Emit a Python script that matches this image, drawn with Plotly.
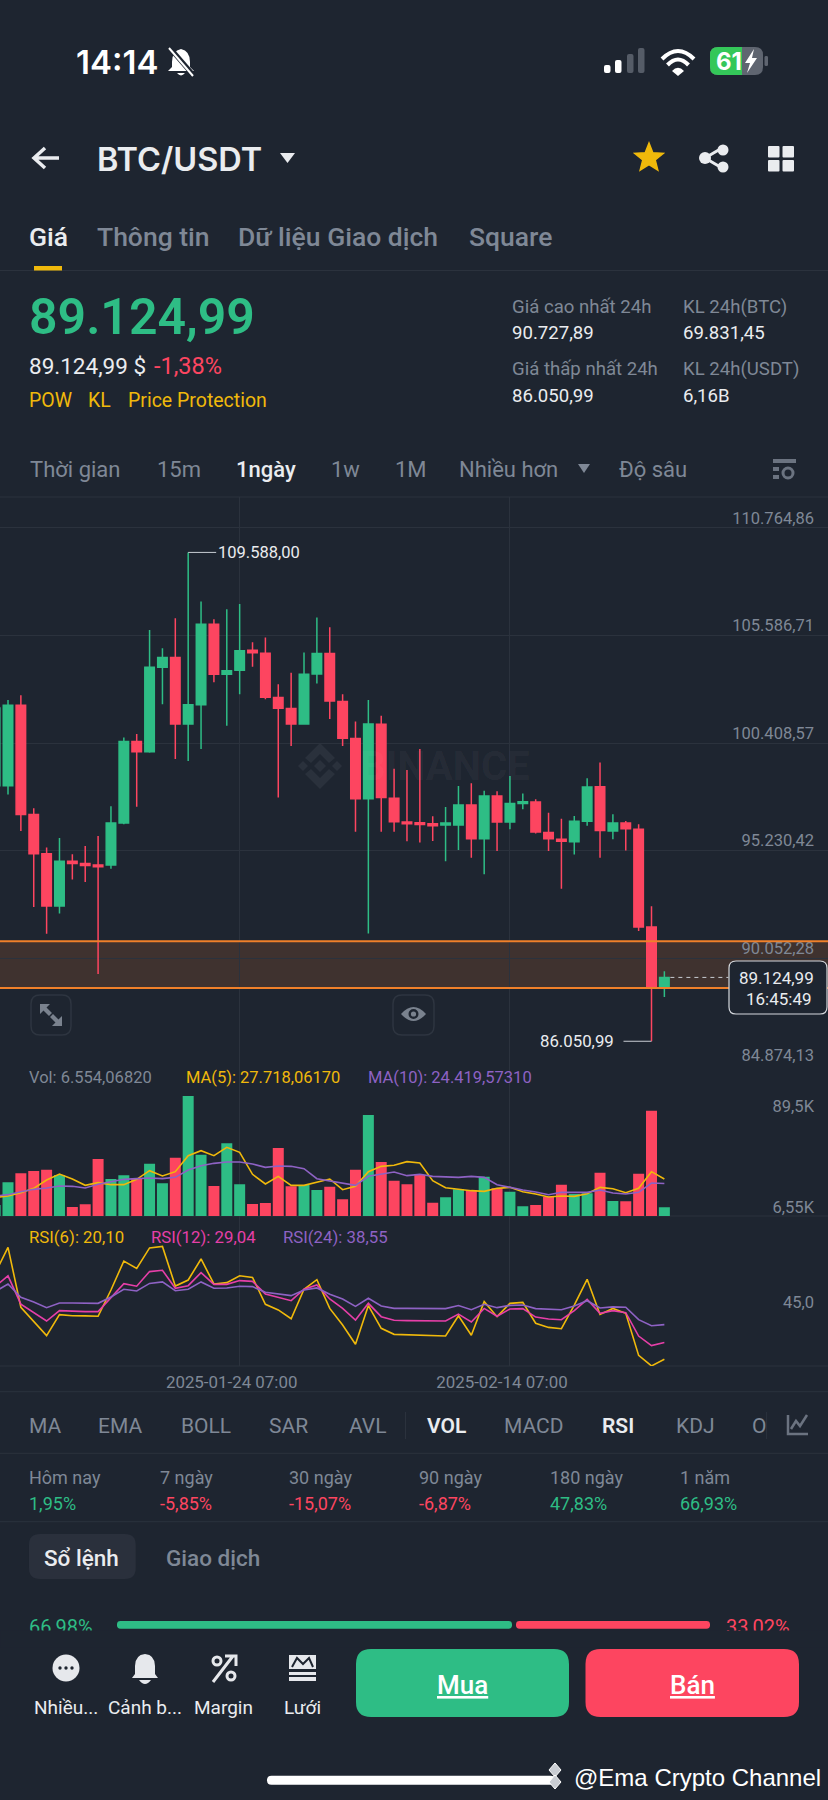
import math
import re
import pandas as pd
import plotly.graph_objects as go
from plotly.subplots import make_subplots

W, H = 828, 1800
BG = "#1E2530"
GREEN = "#2EBD85"
RED = "#FD4560"
YELLOW = "#F0B90B"
PURPLE = "#8E62C4"
PINK = "#E63FA8"
GRAY = "#7F8896"
WHITE = "#EAECEF"
GRID = "#2B323D"

# 1. DATA (daily BTC/USDT candles)
dates = pd.date_range("2025-01-05 07:00", periods=53, freq="D")

opens = [98358, 98358, 102225, 96966, 95076, 92567, 94715, 94612, 94543, 94543, 96554, 100489, 99991, 104064,
         104528, 101331, 102259, 106126, 103720, 103909, 104872, 104734, 102603, 102070, 101331, 103737, 104717,
         102414, 100627, 97722, 101314, 97757, 96605, 96571, 96519, 96468, 96468, 97430, 95797, 97860, 96605,
         97499, 97568, 96107, 95780, 95660, 96640, 98307, 96176, 96554, 96262, 91553, 88700]
highs = [102400, 102483, 102706, 97275, 95385, 95832, 95058, 95454, 95935, 97361, 100678, 100850, 105851, 104975,
         106418, 109588, 107226, 106367, 106848, 107106, 105267, 105490, 103239, 103789, 104769, 106453, 105989,
         102758, 101452, 102483, 101727, 99166, 99114, 100128, 96880, 97327, 98341, 98478, 98118, 98083, 98822,
         97980, 97705, 97052, 96760, 96897, 98719, 99475, 96983, 96657, 96502, 92549, 89421]
lows = [98000, 97929, 96176, 92515, 91226, 92206, 93838, 93718, 89284, 94354, 96502, 97344, 99939, 102277,
        99647, 99544, 100128, 103342, 101245, 102758, 104081, 102517, 97791, 100266, 101331, 103273, 101572,
        100266, 96141, 91243, 96141, 96141, 95677, 95626, 95694, 94715, 95265, 94887, 94096, 95213, 96262,
        97224, 96055, 95213, 93391, 95041, 96433, 94887, 95780, 95230, 91364, 86051, 88184]
closes = [102100, 102225, 96966, 95076, 92567, 94715, 94612, 94509, 94457, 96554, 100489, 99991, 104064, 104528,
          101331, 102259, 106126, 103720, 103892, 104855, 104751, 102620, 102088, 101331, 103720, 104717, 102431,
          100644, 97722, 101331, 97791, 96622, 96519, 96485, 96433, 96554, 97430, 95797, 97860, 96605, 97499,
          97585, 96124, 95797, 95677, 96640, 98289, 96193, 96554, 96279, 91553, 88700, 89124.99]

volumes = [8250, 25250, 32000, 33750, 34750, 30750, 6750, 8750, 42750, 27750, 30500, 28250, 39250, 24500,
           43750, 90000, 46000, 22500, 54500, 23750, 9000, 9750, 51000, 22250, 23250, 19500, 22000,
           12500, 34750, 75750, 40500, 26500, 23750, 30750, 10000, 14000, 20000, 19500, 29500, 20750, 18250,
           7250, 8250, 14500, 23500, 16500, 17000, 32500, 11250, 11000, 31750, 79000, 6554]
vol_ma5 = [14000, 15000, 17500, 20750, 27000, 31500, 27750, 23000, 25000, 23500, 23500, 27500, 34000, 30000,
           33250, 45250, 49000, 45250, 51500, 47750, 31250, 24000, 29750, 23000, 23000, 25500, 27750,
           19750, 22250, 33250, 37250, 38000, 40750, 39750, 26500, 21250, 20000, 19000, 18500, 20750, 21500,
           18250, 16500, 14250, 15000, 14750, 16750, 21500, 20500, 17500, 20750, 33250, 27718]
vol_ma10 = [15000, 16000, 18250, 20000, 21000, 22500, 22250, 21000, 23750, 25750, 27500, 28000, 28500, 28000,
            29000, 34500, 37750, 39500, 40500, 40500, 39000, 36500, 37500, 37250, 35500, 28000, 26250,
            25000, 23000, 29750, 31500, 33000, 30250, 31250, 29750, 29250, 29000, 29750, 29000, 23500, 21250,
            19500, 18000, 16000, 17750, 18000, 17750, 19500, 17250, 16500, 17750, 24750, 24420]

rsi6 = [65.9, 79.7, 47.8, 40.1, 32.7, 43.9, 43.3, 43.2, 43.0, 57.0, 72.4, 68.5, 79.4, 80.2,
        59.1, 62.3, 73.5, 60.2, 60.9, 64.6, 63.7, 49.4, 46.4, 41.7, 57.4, 62.5, 47.2,
        38.4, 28.1, 48.7, 36.6, 33.4, 33.1, 32.9, 32.7, 32.5, 43.3, 32.9, 50.8, 42.8, 49.9,
        50.4, 39.3, 37.1, 36.4, 49.0, 62.7, 44.0, 47.2, 44.6, 22.2, 16.6, 20.10]
rsi12 = [58.8, 64.5, 49.5, 45.1, 40.5, 46.0, 45.6, 45.5, 45.5, 53.1, 60.4, 59.0, 66.8, 67.5,
         57.9, 59.3, 66.2, 60.0, 60.0, 62.0, 61.6, 54.9, 53.3, 51.3, 57.4, 59.7, 52.2,
         47.2, 41.0, 49.9, 42.8, 40.9, 40.7, 40.7, 40.7, 40.5, 44.2, 40.0, 47.2, 43.0, 46.9,
         47.1, 42.6, 41.6, 41.2, 46.0, 52.0, 44.6, 46.0, 44.9, 32.5, 27.4, 29.04]
rsi24 = [56.1, 60.2, 53.1, 50.6, 47.6, 50.1, 50.1, 49.9, 49.9, 53.3, 57.4, 56.5, 60.5, 61.3,
         56.6, 57.4, 61.3, 57.9, 58.1, 59.0, 58.8, 55.8, 55.0, 54.0, 57.0, 58.1, 54.7,
         52.2, 48.3, 52.6, 48.5, 47.2, 47.2, 47.2, 47.1, 47.1, 48.7, 46.5, 49.4, 47.6, 48.8,
         49.0, 47.1, 46.7, 46.5, 48.5, 51.3, 47.4, 48.0, 47.8, 41.2, 38.0, 38.55]

price_ticks = [110764.86, 105586.71, 100408.57, 95230.42, 90052.28, 84874.13]
price_labels = ["110.764,86", "105.586,71", "100.408,57", "95.230,42", "90.052,28", "84.874,13"]
vol_ticks = [6554, 82000]  # the app pushes the 89,5K label down inside the panel
vol_labels = ["6,55K", "89,5K"]
rsi_ticks = [45.0]
rsi_labels = ["45,0"]
date_ticks = ["2025-01-24 07:00", "2025-02-14 07:00"]
date_labels = ["2025-01-24 07:00", "2025-02-14 07:00"]

high_label = ("2025-01-20 07:00", 109588.0, "109.588,00")
low_label = ("2025-02-25 07:00", 86050.99, "86.050,99")
last_price = 89124.99
zone_top, zone_bottom = 90867, 88615


# 2. HELPERS, everything outside the chart is placed in screenshot pixels
def X(x):
    return x / W


def Y(y):
    return 1 - y / H


shapes = []
notes = []


def path(d, fill=None, line=None, width=0, layer="above"):
    # absolute M/L/Q/C path written in pixels, converted to paper units
    nums = iter(range(10 ** 6))

    def conv(m):
        v = float(m.group(0))
        return f"{X(v):.5f}" if next(nums) % 2 == 0 else f"{Y(v):.5f}"

    shapes.append(dict(type="path", xref="paper", yref="paper", layer=layer,
                       path=re.sub(r"-?\d+\.?\d*", conv, d),
                       fillcolor=fill or "rgba(0,0,0,0)",
                       line=dict(color=line or "rgba(0,0,0,0)", width=width)))


def rrect(x0, y0, x1, y1, r, fill=None, line=None, width=0, layer="above"):
    path(f"M {x0 + r} {y0} L {x1 - r} {y0} Q {x1} {y0} {x1} {y0 + r} L {x1} {y1 - r} Q {x1} {y1} {x1 - r} {y1} "
         f"L {x0 + r} {y1} Q {x0} {y1} {x0} {y1 - r} L {x0} {y0 + r} Q {x0} {y0} {x0 + r} {y0} Z",
         fill, line, width, layer)


def circle(cx, cy, r, fill=None, line=None, width=0):
    shapes.append(dict(type="circle", xref="paper", yref="paper", layer="above",
                       x0=X(cx - r), x1=X(cx + r), y0=Y(cy + r), y1=Y(cy - r),
                       fillcolor=fill or "rgba(0,0,0,0)",
                       line=dict(color=line or "rgba(0,0,0,0)", width=width)))


def hline(y, x0=0, x1=W, color=GRID, width=1):
    shapes.append(dict(type="line", xref="paper", yref="paper", layer="below",
                       x0=X(x0), x1=X(x1), y0=Y(y), y1=Y(y), line=dict(color=color, width=width)))


def txt(x, y, s, size=18, color=WHITE, anchor="left", weight=400, family="Roboto"):
    notes.append(dict(xref="paper", yref="paper", x=X(x), y=Y(y), text=s, showarrow=False,
                      xanchor=anchor, yanchor="middle", borderpad=0, borderwidth=0,
                      font=dict(size=size, color=color, family=family, weight=weight)))


# 3. FIGURE
fig = make_subplots(rows=3, cols=1, shared_xaxes=True, vertical_spacing=0)

fig.add_trace(go.Candlestick(x=dates, open=opens, high=highs, low=lows, close=closes, whiskerwidth=0,
                             increasing=dict(line=dict(color=GREEN, width=1.5), fillcolor=GREEN),
                             decreasing=dict(line=dict(color=RED, width=1.5), fillcolor=RED),
                             hoverinfo="skip"), row=1, col=1)

bar_colors = [GREEN if c >= o else RED for o, c in zip(opens, closes)]
fig.add_trace(go.Bar(x=dates, y=volumes, marker=dict(color=bar_colors, line=dict(width=0))), row=2, col=1)
fig.add_trace(go.Scatter(x=dates, y=vol_ma5, mode="lines", line=dict(color=YELLOW, width=1.6)), row=2, col=1)
fig.add_trace(go.Scatter(x=dates, y=vol_ma10, mode="lines", line=dict(color=PURPLE, width=1.6)), row=2, col=1)

fig.add_trace(go.Scatter(x=dates, y=rsi6, mode="lines", line=dict(color=YELLOW, width=1.6)), row=3, col=1)
fig.add_trace(go.Scatter(x=dates, y=rsi12, mode="lines", line=dict(color=PINK, width=1.6)), row=3, col=1)
fig.add_trace(go.Scatter(x=dates, y=rsi24, mode="lines", line=dict(color=PURPLE, width=1.6)), row=3, col=1)

# pixel to date: candle n sits at 8 + 12.87 n, left edge of the screen is x = 0
day0 = pd.Timestamp("2025-01-06 07:00")
x_range = [day0 + pd.Timedelta(days=-8 / 12.87), day0 + pd.Timedelta(days=(W - 8) / 12.87)]

for ax in ["xaxis", "xaxis2", "xaxis3"]:
    fig.layout[ax].update(range=x_range, tickvals=date_ticks, ticktext=date_labels, showgrid=True,
                          gridcolor=GRID, gridwidth=1, zeroline=False, showline=False, ticks="",
                          showticklabels=False, automargin=False, rangeslider=dict(visible=False))
fig.layout.xaxis3.update(showticklabels=True, ticklabelshift=-8, ticklabelstandoff=4,
                         tickfont=dict(size=16.9, color=GRAY, family="Roboto"))

axis_style = dict(side="right", ticks="", zeroline=False, showline=False, ticklabelposition="inside",
                  ticklabelstandoff=11, ticklabeloverflow="allow", automargin=False,
                  tickfont=dict(size=16.5, color=GRAY, family="Roboto"))
fig.layout.yaxis.update(domain=[Y(1065.7), Y(497)], range=[84874.13, 112256], tickvals=price_ticks,
                        ticktext=price_labels, showgrid=True, gridcolor=GRID, ticklabelshift=-10, **axis_style)
fig.layout.yaxis2.update(domain=[Y(1216), Y(1065.7)], range=[0, 112725], tickvals=vol_ticks,
                         ticktext=vol_labels, showgrid=False, **axis_style)
fig.layout.yaxis3.update(domain=[Y(1366), Y(1216)], range=[16.55, 96.38], tickvals=rsi_ticks,
                         ticktext=rsi_labels, showgrid=False, ticklabelshift=-10, **axis_style)

# orange support zone
shapes.append(dict(type="rect", xref="paper", yref="y", x0=0, x1=1, y0=zone_bottom, y1=zone_top, layer="below",
                   fillcolor="rgba(255,130,50,0.15)", line=dict(width=0)))
for v in [zone_top, zone_bottom]:
    shapes.append(dict(type="line", xref="paper", yref="y", x0=0, x1=1, y0=v, y1=v, layer="above",
                       line=dict(color="#F0802A", width=2)))

# panel baselines
hline(1216)
hline(1366)

# high / low leaders and last price line
shapes.append(dict(type="line", xref="x", yref="y", xsizemode="pixel", xanchor=high_label[0], x0=0, x1=28,
                   y0=high_label[1], y1=high_label[1], line=dict(color="#C9CDD3", width=1)))
shapes.append(dict(type="line", xref="x", yref="y", xsizemode="pixel", xanchor=low_label[0], x0=-28, x1=0,
                   y0=low_label[1], y1=low_label[1], line=dict(color="#C9CDD3", width=1)))
shapes.append(dict(type="line", xref="x", yref="y", xsizemode="pixel", xanchor="2025-02-26 07:00", x0=6, x1=64,
                   y0=last_price, y1=last_price, line=dict(color="#C9CDD3", width=1, dash="4px,4px")))
notes.append(dict(xref="x", yref="y", x=high_label[0], y=high_label[1], xshift=29, text=high_label[2],
                  showarrow=False, xanchor="left", yanchor="middle", borderpad=0,
                  font=dict(size=16.5, color=WHITE, family="Roboto")))
notes.append(dict(xref="x", yref="y", x=low_label[0], y=low_label[1], xshift=-37, text=low_label[2],
                  showarrow=False, xanchor="right", yanchor="middle", borderpad=0,
                  font=dict(size=16.8, color=WHITE, family="Roboto")))

# last price tag
rrect(729, 961, 827, 1014, 7, BG, "#D5D8DD", 1.2)
txt(776, 978, "89.124,99", 17, WHITE, "center")
txt(779, 999, "16:45:49", 17, WHITE, "center")

# chart buttons
rrect(31, 995, 71, 1035, 9, None, "#2E3540", 1.5)
path("M 40 1004 L 50 1004 L 46.5 1007.5 L 52 1013 L 49 1016 L 43.5 1010.5 L 40 1014 Z", "#7A828E")
path("M 62 1026 L 52 1026 L 55.5 1022.5 L 50 1017 L 53 1014 L 58.5 1019.5 L 62 1016 Z", "#7A828E")
rrect(393, 995, 434, 1035, 9, None, "#2E3540", 1.5)
path("M 401 1014 Q 413.5 1000 426 1014 Q 413.5 1028 401 1014 Z", "#7A828E")
circle(413.5, 1014, 5, BG)
circle(413.5, 1014, 2.6, "#7A828E")

# watermark
wm = "#2A313C"
path("M 320 743 L 335 758 L 329 763 L 320 754 L 311 763 L 305 758 Z", wm, layer="below")
path("M 320 789 L 335 774 L 329 769 L 320 778 L 311 769 L 305 774 Z", wm, layer="below")
path("M 320 760 L 326 766 L 320 772 L 314 766 Z", wm, layer="below")
path("M 303 761 L 308 766 L 303 771 L 298 766 Z", wm, layer="below")
path("M 337 761 L 342 766 L 337 771 L 332 766 Z", wm, layer="below")
txt(530, 766, "BINANCE", 40, "rgba(255,255,255,0.045)", "right", 700)

# indicator legends
txt(29, 1077, "Vol: 6.554,06820", 16.5, GRAY)
txt(186, 1077, "MA(5): 27.718,06170", 16.5, YELLOW)
txt(368, 1077, "MA(10): 24.419,57310", 16.5, PURPLE)
txt(29, 1237, "RSI(6): 20,10", 16.8, YELLOW)
txt(151, 1237, "RSI(12): 29,04", 16.8, PINK)
txt(283, 1237, "RSI(24): 38,55", 16.8, PURPLE)

# status bar
txt(76, 62, "14:14", 33, "#FFFFFF", weight=600, family="Inter")
path("M 181 49 Q 190 51 190 62 L 190 67 L 194 71 L 168 71 L 172 67 L 172 62 Q 172 51 181 49 Z", "#FFFFFF")
path("M 177 73 L 185 73 Q 181 78 177 73 Z", "#FFFFFF")
path("M 170 48 L 194 76", None, BG, 5)
path("M 169 48 L 193 76", None, "#FFFFFF", 2)
for x0, top, c in [(604, 65, "#FFFFFF"), (615, 60, "#FFFFFF"), (627, 54, "#555C67"), (638, 48, "#555C67")]:
    rrect(x0, top, x0 + 6.5, 73, 2, c)
path("M 662 59 Q 678 43 694 59", None, "#FFFFFF", 4)
path("M 667.5 65 Q 678 54 688.5 65", None, "#FFFFFF", 4)
path("M 672 71 Q 678 64.5 684 71 L 678 76 Z", "#FFFFFF")
rrect(710, 47, 763, 75, 8, "#5F6570")
path("M 718 47 L 742 47 L 742 75 L 718 75 Q 710 75 710 67 L 710 55 Q 710 47 718 47 Z", "#34C759")
rrect(764.5, 56, 768, 66, 1.5, "#5F6570")
txt(716, 61.5, "61", 24, "#FFFFFF", weight=700, family="Inter")
path("M 754 49 L 745 63 L 750 63 L 747 73 L 757 58 L 752 58 Z", "#FFFFFF")

# header
path("M 59 158 L 35 158 M 45 148 L 34 158 L 45 168", None, WHITE, 3.5)
txt(97, 159, "BTC/USDT", 32.5, WHITE, weight=600, family="Inter")
path("M 280 153 L 295 153 L 287.5 163 Z", WHITE)
star = []
for k in range(10):
    r = 15 if k % 2 == 0 else 6.5
    a = -math.pi / 2 + k * math.pi / 5
    star.append(f"{649 + r * math.cos(a):.1f} {158 + r * math.sin(a):.1f}")
path("M " + " L ".join(star) + " Z", YELLOW, YELLOW, 1.5)
path("M 722 148 L 705 158 L 722 168", None, WHITE, 3)
for cx, cy, r in [(723, 150, 5.5), (705, 158, 6), (723, 167, 5.5)]:
    circle(cx, cy, r, WHITE)
for x0, y0 in [(768, 146), (782.5, 146), (768, 160), (782.5, 160)]:
    rrect(x0, y0, x0 + 11.5, y0 + 11.5, 1, WHITE)

# tabs
txt(29, 237, "Giá", 26.5, WHITE, weight=500)
txt(97, 237, "Thông tin", 26.5, GRAY, weight=500)
txt(238, 237, "Dữ liệu Giao dịch", 26.5, GRAY, weight=500)
txt(469, 237, "Square", 26.5, GRAY, weight=500)
path("M 34 266 L 62 266 L 62 270.5 L 34 270.5 Z", YELLOW)
hline(270.5)

# price block
txt(29, 317, "89.124,99", 50, GREEN, weight=600)
txt(29, 366, "89.124,99 $", 22.5, WHITE)
txt(154, 366, "-1,38%", 23.5, RED)
txt(29, 401, "POW", 19.5, YELLOW)
txt(88, 401, "KL", 19.5, YELLOW)
txt(128, 401, "Price Protection", 19.5, YELLOW)
txt(512, 307, "Giá cao nhất 24h", 18.6, GRAY)
txt(512, 333, "90.727,89", 18.6, WHITE)
txt(512, 369, "Giá thấp nhất 24h", 18.6, GRAY)
txt(512, 396, "86.050,99", 18.6, WHITE)
txt(683, 307, "KL 24h(BTC)", 18.6, GRAY)
txt(683, 333, "69.831,45", 18.6, WHITE)
txt(683, 369, "KL 24h(USDT)", 18.6, GRAY)
txt(683, 396, "6,16B", 18.6, WHITE)

# interval row
for x, label, c, w in [(30, "Thời gian", GRAY, 400), (157, "15m", GRAY, 400), (236, "1ngày", WHITE, 500),
                       (331, "1w", GRAY, 400), (395, "1M", GRAY, 400), (459, "Nhiều hơn", GRAY, 400),
                       (619, "Độ sâu", GRAY, 400)]:
    txt(x, 470, label, 22, c, weight=w)
path("M 578 464 L 590 464 L 584 473 Z", GRAY)
path("M 773 459 L 796 459 L 796 463 L 773 463 Z", "#6B7380")
path("M 773 467 L 779 467 L 779 471 L 773 471 Z", "#6B7380")
path("M 773 475 L 779 475 L 779 479 L 773 479 Z", "#6B7380")
circle(788, 473, 5, None, "#6B7380", 3)
hline(497)

# below the chart
hline(1391.7)
for x, label, c, w in [(29, "MA", GRAY, 400), (97.7, "EMA", GRAY, 400), (180.6, "BOLL", GRAY, 400),
                       (269, "SAR", GRAY, 400), (348.5, "AVL", GRAY, 400), (426.6, "VOL", WHITE, 600),
                       (504, "MACD", GRAY, 400), (602, "RSI", WHITE, 600), (676, "KDJ", GRAY, 400),
                       (752, "O", GRAY, 400)]:
    txt(x, 1426, label, 21, c, weight=w)
shapes.append(dict(type="line", xref="paper", yref="paper", x0=X(405.5), x1=X(405.5), y0=Y(1412), y1=Y(1439),
                   line=dict(color=GRID, width=1)))
shapes.append(dict(type="line", xref="paper", yref="paper", x0=X(766.6), x1=X(766.6), y0=Y(1412), y1=Y(1439),
                   line=dict(color=GRID, width=1)))
path("M 788 1415 L 788 1434 L 808 1434", None, "#6B7380", 2.5)
path("M 791 1429 L 796 1421 L 800 1426 L 807 1415", None, "#6B7380", 2.5)
hline(1453.3)

change_x = [29, 159.5, 289, 419, 549.6, 680]
change_names = ["Hôm nay", "7 ngày", "30 ngày", "90 ngày", "180 ngày", "1 năm"]
change_vals = ["1,95%", "-5,85%", "-15,07%", "-6,87%", "47,83%", "66,93%"]
for x, name, val in zip(change_x, change_names, change_vals):
    txt(x, 1477, name, 18, GRAY)
    txt(x, 1503, val, 18, RED if val.startswith("-") else GREEN)
hline(1521.7)

rrect(29, 1534, 135.7, 1579, 11, "#2A303C")
txt(81, 1558, "Sổ lệnh", 22.5, WHITE, "center", 500)
txt(166, 1558, "Giao dịch", 22.5, GRAY, weight=500)

# order book ratio, cut off by the bottom bar
txt(29, 1627, "66,98%", 20, GREEN)
txt(726, 1627, "33,02%", 20, RED)
notes.append(dict(xref="paper", yref="paper", x=0, y=Y(1630), text=" ", showarrow=False, xanchor="left",
                  yanchor="top", width=W, height=16, bgcolor=BG, borderpad=0))
rrect(117, 1621, 512, 1628.7, 3.5, GREEN)
rrect(516, 1621, 710, 1628.7, 3.5, RED)

# bottom navigation
circle(66, 1668, 13.5, "#E6E8EC")
for dx in [-6, 0, 6]:
    circle(66 + dx, 1668, 1.7, BG)
path("M 145 1654 Q 155 1655 155 1666 L 155 1674 L 158 1678 L 132 1678 L 135 1674 L 135 1666 Q 135 1655 145 1654 Z",
     "#E6E8EC")
path("M 139 1680 L 151 1680 Q 145 1688 139 1680 Z", "#E6E8EC")
circle(217, 1661, 4, None, "#E6E8EC", 3)
circle(231, 1676, 4, None, "#E6E8EC", 3)
path("M 213 1682 L 233 1656 M 225 1656 L 236 1656 L 236 1666", None, "#E6E8EC", 3)
path("M 289 1655 L 316 1655 L 316 1669 L 289 1669 Z", "#E6E8EC")
path("M 292 1667 L 297 1658 L 303 1664 L 309 1658 L 313 1667", None, BG, 2)
path("M 289 1672 L 316 1672 L 316 1675 L 289 1675 Z", "#E6E8EC")
path("M 289 1677 L 316 1677 L 316 1681 L 289 1681 Z", "#E6E8EC")
for x, label in [(66, "Nhiều..."), (145, "Cảnh b..."), (224, "Margin"), (302.5, "Lưới")]:
    txt(x, 1707, label, 19, WHITE, "center")

rrect(356, 1649, 569, 1717, 15, GREEN)
rrect(585.5, 1649, 799, 1717, 15, RED)
txt(462.5, 1685, "<u>Mua</u>", 26, "#FFFFFF", "center", 500)
txt(692, 1685, "<u>Bán</u>", 26, "#FFFFFF", "center", 500)

# home indicator and channel tag
rrect(267, 1775.7, 555, 1784.7, 4.5, "#FFFFFF")
path("M 555 1763 L 561 1770 L 555 1777 L 549 1770 Z", "#C9CDD3", "#FFFFFF", 1)
path("M 555 1775 L 561 1782 L 555 1789 L 549 1782 Z", "#C9CDD3", "#FFFFFF", 1)
txt(574, 1777, "@Ema Crypto Channel", 24, "#FFFFFF", family="Liberation Sans")

fig.update_layout(width=W, height=H, margin=dict(l=0, r=0, t=0, b=0), autosize=False, showlegend=False,
                  paper_bgcolor=BG, plot_bgcolor=BG, bargap=0.145, boxgap=0.262, boxgroupgap=0, hovermode=False,
                  font=dict(family="Roboto", color=GRAY), shapes=shapes, annotations=notes)

fig.write_html("out.html", config={"displayModeBar": False},
               post_script="document.body.style.margin='0';document.body.style.background='" + BG + "';")
